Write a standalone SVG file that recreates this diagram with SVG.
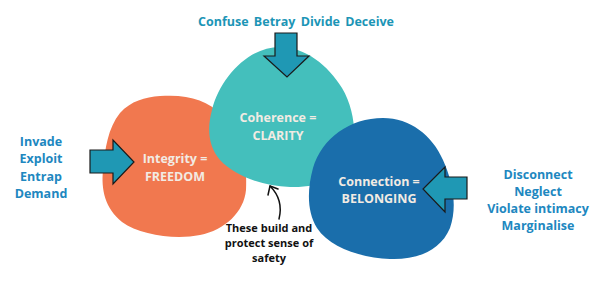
<svg xmlns="http://www.w3.org/2000/svg" width="600" height="286" viewBox="0 0 600 286">
<style>
.lbl{font-family:"Open Sans","Liberation Sans",sans-serif;font-weight:700;font-size:12.5px;text-anchor:middle;dominant-baseline:central}
.in{fill:#f2ebe3}
.side{fill:#2087bf}
.top{fill:#1c95b6;word-spacing:2px}
.note{fill:#111;font-size:11px}
.blk{fill:#1f98b4;stroke:#1a1a1a;stroke-width:1.2;stroke-linejoin:miter}
.cur{fill:none;stroke:#111;stroke-width:1.5;stroke-linecap:round;stroke-linejoin:round}
</style>
<rect width="600" height="286" fill="#fff"/>
<g id="integrity">
<path d="M160,96 C188,94 207,100 222,115 C240,133 248,165 246,190 C244,212 225,230 200,235 C175,240 140,235 122,222 C105,208 101,190 103,170 C105,148 108,128 120,113 C131,101 145,97 160,96 Z" fill="#f1784f"/>
<text class="lbl in" x="175" y="158">Integrity =</text>
<text class="lbl in" x="175" y="176">FREEDOM</text>
</g>
<g id="coherence">
<path d="M280,47 C305,47 328,65 342,88 C354,108 357,135 352,155 C345,178 318,188 290,187 C262,186 235,176 220,160 C208,146 207,128 212,110 C220,78 248,47 280,47 Z" fill="#44bfbc"/>
<text class="lbl in" x="278" y="117">Coherence =</text>
<text class="lbl in" x="278" y="135">CLARITY</text>
</g>
<g id="connection">
<path d="M383,118 C410,118 432,135 443,160 C452,180 458,205 450,228 C440,252 415,260 390,259 C362,258 330,248 317,228 C307,212 307,190 313,168 C322,138 350,118 383,118 Z" fill="#1a6eab"/>
<text class="lbl in" x="379" y="181">Connection =</text>
<text class="lbl in" x="379" y="198">BELONGING</text>
</g>
<g id="threats-top">
<text class="lbl top" x="296" y="21">Confuse Betray Divide Deceive</text>
</g>
<g id="threats-left">
<text class="lbl side" x="41" y="141">Invade</text>
<text class="lbl side" x="41" y="158">Exploit</text>
<text class="lbl side" x="41" y="176">Entrap</text>
<text class="lbl side" x="41" y="193">Demand</text>
</g>
<g id="threats-right">
<text class="lbl side" x="538" y="174">Disconnect</text>
<text class="lbl side" x="538" y="191">Neglect</text>
<text class="lbl side" x="538" y="208">Violate intimacy</text>
<text class="lbl side" x="538" y="225">Marginalise</text>
</g>
<g id="note">
<text class="lbl note" x="269" y="227">These build and</text>
<text class="lbl note" x="269" y="242">protect sense of</text>
<text class="lbl note" x="269" y="257">safety</text>
</g>
<g id="connectors">
<path class="blk" d="M275,33 H297 V56 H309 L287,77 L264,56 H275 Z"/>
<path class="blk" d="M90,150 H113 V140 L134,162 L113,184 V173 H90 Z"/>
<path class="blk" d="M467,177 H445 V167 L423,189 L445,212 V199 H467 Z"/>
<path class="cur" d="M279,219 C282,207 279,195 270,186"/>
<path class="cur" d="M268,195 L270,186 L278,189"/>
</g>
</svg>
